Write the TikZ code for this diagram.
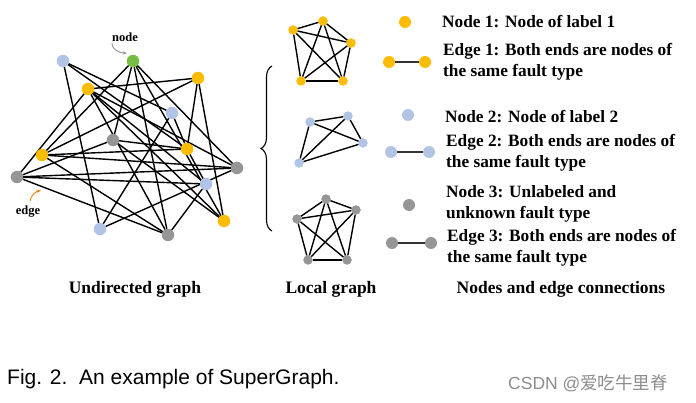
\documentclass[tikz,border=0pt]{standalone}
\usepackage{fontspec}
\setmainfont{Liberation Serif}
\newfontfamily\sansf{Liberation Sans}
\newfontfamily\cjk{Noto Sans CJK SC}
\usetikzlibrary{decorations.pathreplacing,arrows.meta}
\definecolor{yel}{RGB}{252,188,0}
\definecolor{blu}{RGB}{178,196,230}
\definecolor{gry}{RGB}{150,150,150}
\definecolor{grn}{RGB}{118,190,70}
\begin{document}
\begin{tikzpicture}[x=1pt,y=-1pt,
  nd/.style={circle,inner sep=0pt,minimum size=12pt,draw=none},
  sn/.style={circle,inner sep=0pt,minimum size=9pt,draw=none},
  ed/.style={line width=1.4pt,black},
  lt/.style={font=\fontsize{17.3}{20.5}\selectfont\bfseries,anchor=west,align=left,inner sep=0pt},
  captxt/.style={font=\fontsize{17.5}{19}\selectfont\bfseries,inner sep=0pt}]
\useasboundingbox (0,0) rectangle (696,403);
\fill[white] (0,0) rectangle (696,403);
% main graph
\node[nd,fill=blu] (b1) at (63,61) {};
\node[nd,fill=grn] (g) at (133,61) {};
\node[nd,fill=yel] (y1) at (198,78) {};
\node[nd,fill=yel] (y2) at (88,89) {};
\node[nd,fill=blu] (b2) at (172,113) {};
\node[nd,fill=gry] (r1) at (113,140) {};
\node[nd,fill=yel] (y3) at (187,149) {};
\node[nd,fill=yel] (y4) at (42,155) {};
\node[nd,fill=gry] (r2) at (237,168) {};
\node[nd,fill=gry] (r3) at (17,177) {};
\node[nd,fill=blu] (b3) at (206,184) {};
\node[nd,fill=yel] (y5) at (224,221) {};
\node[nd,fill=blu] (b4) at (100,229) {};
\node[nd,fill=gry] (r4) at (168,235) {};
\foreach \a/\b in {b1/b4,b1/y3,b1/b2,g/y4,g/r1,g/r4,g/r2,g/y5,y2/y1,y1/y4,y1/y3,y1/y5,
  y2/r3,y2/r2,y2/b3,y2/r4,y2/y5,b2/y3,b2/b4,r1/y3,r1/r3,r1/y5,y4/y3,y3/b3,y4/r2,y4/r4,
  r3/r2,r3/b3,r3/r4,b4/r2,r4/b3}
  \draw[ed] (\a) -- (\b);
\foreach \n/\c in {b1/blu,g/grn,y1/yel,y2/yel,b2/blu,r1/gry,y3/yel,y4/yel,r2/gry,r3/gry,b3/blu,y5/yel,b4/blu,r4/gry}
  \fill[\c] (\n) circle (6.2pt);
\node[font=\fontsize{12.5}{14}\selectfont\bfseries] (nl) at (125,37) {node};
\coordinate (na) at (127,53);
\draw[gry,line width=0.9pt,-{Stealth[length=4.5pt]}] (112,43) to[out=-90,in=180] (na);
\node[font=\fontsize{12.5}{14}\selectfont\bfseries] (el) at (28,212) {edge};
\coordinate (ea) at (41,190);
\draw[orange!80!brown,line width=0.9pt,-{Stealth[length=4.5pt]}] (30,201) to[out=80,in=200] (ea);
% brace
\draw[line width=1.1pt,decorate,decoration={brace,amplitude=11pt}] (272,231) -- (272,66);
% local graphs
\foreach \n/\p in {p1/{(323,21)},p2/{(293,30)},p3/{(351,43)},p4/{(301,81)},p5/{(343,81)}}
  \node[sn,fill=yel] (\n) at \p {};
\foreach \a/\b in {p1/p2,p1/p3,p1/p4,p1/p5,p2/p3,p2/p4,p2/p5,p3/p4,p3/p5,p4/p5}
  \draw[ed] (\a) -- (\b);
\foreach \n/\p in {q1/{(310,122)},q2/{(348,116)},q3/{(363,143)},q4/{(299,163)}}
  \node[sn,fill=blu] (\n) at \p {};
\foreach \a/\b in {q1/q2,q1/q3,q1/q4,q2/q3,q2/q4,q3/q4}
  \draw[ed] (\a) -- (\b);
\foreach \n/\p in {s1/{(326,199)},s2/{(297,219)},s3/{(356,210)},s4/{(308,260)},s5/{(347,260)}}
  \node[sn,fill=gry] (\n) at \p {};
\foreach \a/\b in {s1/s2,s1/s3,s1/s4,s1/s5,s2/s3,s2/s4,s2/s5,s3/s4,s3/s5,s4/s5}
  \draw[ed] (\a) -- (\b);
\foreach \n/\c in {p1/yel,p2/yel,p3/yel,p4/yel,p5/yel,q1/blu,q2/blu,q3/blu,q4/blu,s1/gry,s2/gry,s3/gry,s4/gry,s5/gry}
  \fill[\c] (\n) circle (4.6pt);
% legend
\node[nd,fill=yel] (l1) at (405,22) {};
\node[nd,fill=yel] (l1a) at (389,62) {};
\node[nd,fill=yel] (l1b) at (425,62) {};
\draw[line width=1.2pt,black!80] (l1a) -- (l1b);
\node[nd,fill=blu] (l2) at (408,115) {};
\node[nd,fill=blu] (l2a) at (391,152) {};
\node[nd,fill=blu] (l2b) at (429,152) {};
\draw[line width=1.2pt,black!80] (l2a) -- (l2b);
\node[nd,fill=gry] (l3) at (409,205) {};
\node[nd,fill=gry] (l3a) at (392,243) {};
\node[nd,fill=gry] (l3b) at (431,243) {};
\draw[line width=1.2pt,black!80] (l3a) -- (l3b);
\node[lt] (t1) at (442,22) {Node 1: Node of label 1};
\node[lt] (t2) at (443,62) {Edge 1: Both ends are nodes of\\the same fault type};
\node[lt] (t3) at (445,117) {Node 2: Node of label 2};
\node[lt] (t4) at (446,153) {Edge 2: Both ends are nodes of\\the same fault type};
\node[lt] (t5) at (446,204) {Node 3: Unlabeled and\\unknown fault type};
\node[lt] (t6) at (447,248) {Edge 3: Both ends are nodes of\\the same fault type};
\node[captxt] (c1) at (135,289) {Undirected graph};
\node[captxt] (c2) at (331,289) {Local graph};
\node[captxt] (c3) at (561,289) {Nodes and edge connections};
\node[font=\sansf\fontsize{21}{24}\selectfont,anchor=west,inner sep=0pt] (fig) at (7,379) {Fig. 2.\ \ An example of SuperGraph.};
\node[font=\fontsize{17.5}{19}\selectfont,text=black!45,anchor=west,inner sep=0pt] (wm) at (508,383) {\sansf CSDN @\cjk 爱吃牛里脊};
\end{tikzpicture}
\end{document}
